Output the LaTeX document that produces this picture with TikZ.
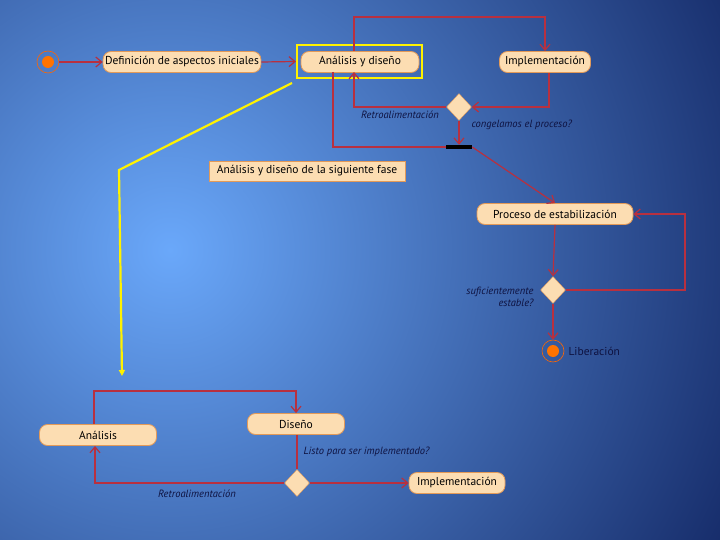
\documentclass[tikz,border=0pt]{standalone}
\usepackage{fontspec}
\setmainfont{PT Sans}
\usetikzlibrary{arrows.meta,shapes.geometric}
\definecolor{peach}{HTML}{FCDDB2}
\definecolor{peachedge}{HTML}{E39A58}
\definecolor{lred}{HTML}{B8303F}
\definecolor{navy}{HTML}{0A1A55}
\definecolor{lblue}{HTML}{6AA8FA}
\definecolor{dtext}{HTML}{0E1240}
\begin{document}
\begin{tikzpicture}[x=1pt,y=-1pt,
  act/.style={draw=peachedge,fill=peach,rounded corners=8pt,minimum height=21pt,font=\fontsize{11.5}{13}\selectfont,text=black,inner sep=2pt,line width=0.8pt},
  dia/.style={diamond,draw=peachedge,fill=peach,minimum width=25pt,minimum height=27pt,inner sep=0pt},
  fl/.style={draw=lred,line width=1.2pt},
  ar/.style={-{Straight Barb[length=6pt,width=10pt]}},
  lab/.style={font=\itshape\fontsize{10.5}{12}\selectfont,text=dtext}]
\useasboundingbox (0,0) rectangle (720,540);
\begin{scope}
\clip (0,0) rectangle (720,540);
\shade[inner color=lblue,outer color=navy] (170,250) circle (720);
\end{scope}
% top row
\node[circle,fill=orange!90!red,inner sep=0pt,minimum size=12pt] (s) at (48,62) {};
\node[circle,draw=orange!80!red,inner sep=0pt,minimum size=22pt,line width=0.6pt] (sr) at (48,62) {};
\node[act,minimum width=156pt] (def) at (182,62) {Definición de aspectos iniciales};
\node[act,minimum width=118pt] (ad) at (360,62) {Análisis y diseño};
\node[draw=yellow,line width=2.2pt,minimum width=125pt,minimum height=33pt] (hl) at (359.5,61.5) {};
\node[act,minimum width=91pt] (imp) at (545,62) {Implementación};
\node[dia] (d1) at (459,107) {};
\node[fill=black,minimum width=26pt,minimum height=4pt,inner sep=0pt] (bar) at (459,147) {};
\node[draw=peachedge,fill=peach,minimum width=196pt,minimum height=20pt,inner sep=2pt,line width=0.8pt,font=\fontsize{11.5}{13}\selectfont] (sig) at (307,171) {Análisis y diseño de la siguiente fase};
\node[act,minimum width=156pt] (pe) at (555,214) {Proceso de estabilización};
\node[dia] (d2) at (553,290) {};
\node[circle,fill=orange!90!red,inner sep=0pt,minimum size=12pt] (e) at (553,351) {};
\node[circle,draw=orange!80!red,inner sep=0pt,minimum size=22pt,line width=0.6pt] (er) at (553,351) {};
\node[anchor=west,font=\fontsize{11.5}{13}\selectfont,text=dtext] (lib) at (565,351) {Liberación};
% labels
\node[lab] (rt1) at (400,115) {Retroalimentación};
\node[lab,anchor=west] (cg) at (468,125) {congelamos el proceso?};
\node[lab,anchor=east,align=right] (se) at (537,297) {suficientemente\\estable?};
% flows top
\draw[fl,ar] (sr.east) -- (def.west);
\draw[fl,ar] (def.east) -- (hl.west);
\draw[fl,ar] (ad.north -| 354,0) -- (354,17) -| (imp.north);
\draw[fl,ar] (imp.south -| 549,0) |- (d1.east);
\draw[fl,ar] (d1.west) -| (354,72);
\draw[fl,ar] (d1.south) -- (bar.north);
\draw[fl] (333,72) |- (bar.west);
\draw[fl,ar] (bar.east) -- (pe.north);
\draw[fl,ar] (pe.south) -- (d2.north);
\draw[fl,ar] (d2.east) -- (685,290) |- (pe.east);
\draw[fl,ar] (d2.south) -- (er.north);
% yellow
\coordinate (y1) at (292,83);
\coordinate (y2) at (119,170);
\coordinate (y3) at (122,376);
\draw[yellow,line width=2.2pt,-{Triangle[length=6pt,width=6pt]}] (y1) -- (y2) -- (y3);
% bottom
\node[act,minimum width=117pt] (an) at (98,435) {Análisis};
\node[act,minimum width=97pt] (dis) at (296,424) {Diseño};
\node[dia] (d3) at (297,483) {};
\node[act,minimum width=96pt] (imp2) at (457,483) {Implementación};
\node[lab,anchor=west] (lp) at (300,452) {Listo para ser implementado?};
\node[lab] (rt2) at (197,494) {Retroalimentación};
\draw[fl,ar] (an.north -| 94,0) |- (296,391) -- (dis.north);
\draw[fl] (dis.south -| d3) -- (d3.north);
\draw[fl,ar] (d3.east) -- (imp2.west);
\draw[fl,ar] (d3.west) -| (an.south -| 95,0);
\end{tikzpicture}
\end{document}
